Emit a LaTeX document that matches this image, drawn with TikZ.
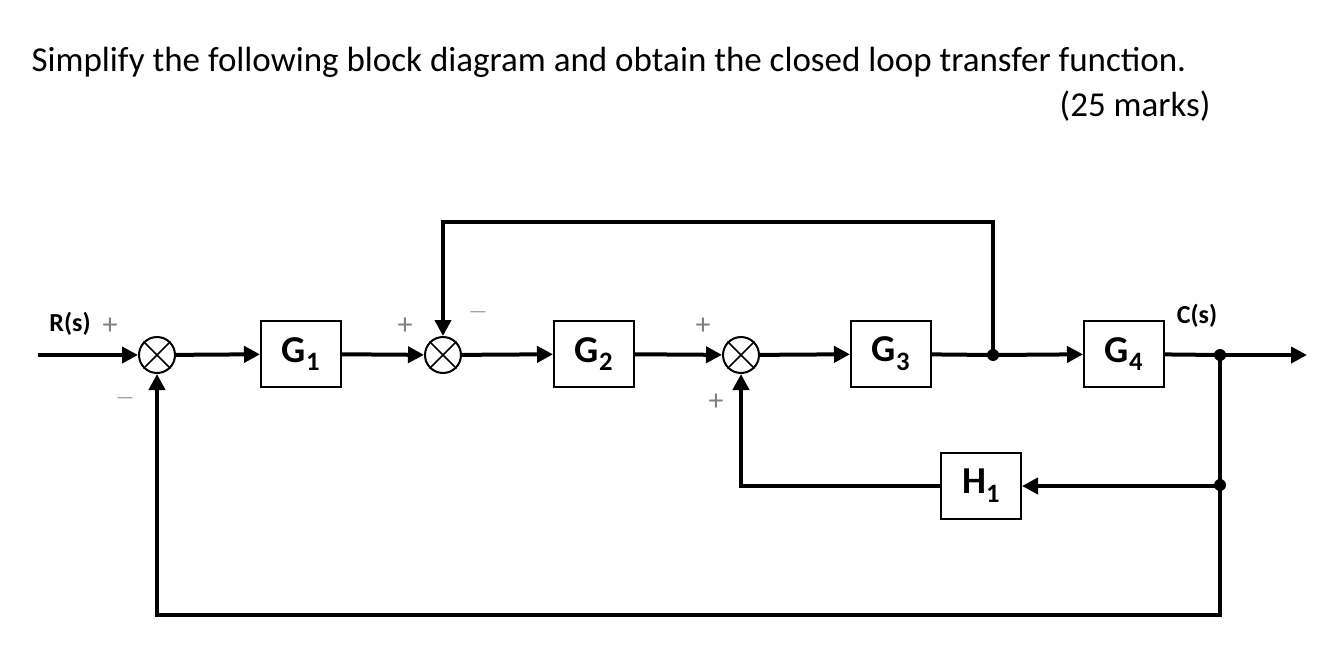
\documentclass[tikz,border=0pt]{standalone}
\usepackage{fontspec}
\setmainfont{Carlito}
\usetikzlibrary{arrows.meta}
\begin{document}
\begin{tikzpicture}[x=1pt,y=-1pt,
  sig/.style={line width=4pt,-{Triangle[length=16pt,width=16pt]}},
  line/.style={line width=4pt},
  blk/.style={draw,line width=2pt,minimum width=80pt,minimum height=66pt,font=\fontsize{38}{38}\selectfont\bfseries},
  sum/.style={draw,line width=2pt,circle,minimum size=36pt,inner sep=0pt},
  sgn/.style={font=\fontsize{30}{30}\selectfont,text=gray},
  lab/.style={font=\fontsize{26}{26}\selectfont\bfseries}]
\useasboundingbox (0,0) rectangle (1319,645);
\node[anchor=west,font=\fontsize{35}{35}\selectfont] (title) at (28,62) {Simplify the following block diagram and obtain the closed loop transfer function.};
\node[anchor=east,font=\fontsize{35}{35}\selectfont] (marks) at (1214,106) {(25 marks)};
\coordinate (in) at (38,355);
\node[sum] (s1) at (157,355) {};
\node[sum] (s2) at (443,355) {};
\node[sum] (s3) at (741,355) {};
\foreach \s in {s1,s2,s3}{
  \draw[line width=1.5pt] (\s.45) -- (\s.225) (\s.135) -- (\s.315);}
\node[blk] (g1) at (301,354) {G\textsubscript{1}};
\node[blk] (g2) at (594,354) {G\textsubscript{2}};
\node[blk] (g3) at (891,354) {G\textsubscript{3}};
\node[blk] (g4) at (1124,354) {G\textsubscript{4}};
\node[blk] (h1) at (981,486) {H\textsubscript{1}};
\coordinate (j1) at (993,355);
\coordinate (j2) at (1220,355);
\coordinate (j3) at (1220,485);
\coordinate (out) at (1307,355);
\fill (j1) circle (6pt) (j2) circle (6pt) (j3) circle (6pt);
\draw[sig] (in) -- (s1);
\draw[sig] (s1) -- (g1);
\draw[sig] (g1) -- (s2);
\draw[sig] (s2) -- (g2);
\draw[sig] (g2) -- (s3);
\draw[sig] (s3) -- (g3);
\draw[line] (g3) -- (j1);
\draw[sig] (j1) -- (g4);
\draw[line] (g4) -- (j2);
\draw[sig] (j2) -- (out);
\draw[sig] (j1) |- (443,222) -- (s2.north);
\draw[sig] (j2) |- (h1.east);
\draw[sig] (h1.west) -| (s3.south);
\draw[sig] (j3) |- (157,615) -- (s1.south);
\node[lab] (rs) at (70,324) {R(s)};
\node[lab] (cs) at (1197,316) {C(s)};
\node[sgn] (p1) at (110,326) {+};
\node[sgn] (m1) at (125,398) {$-$};
\node[sgn] (p2) at (405,326) {+};
\node[sgn] (m2) at (478,312) {$-$};
\node[sgn] (p3) at (703,326) {+};
\node[sgn] (p4) at (716,402) {+};
\end{tikzpicture}
\end{document}
